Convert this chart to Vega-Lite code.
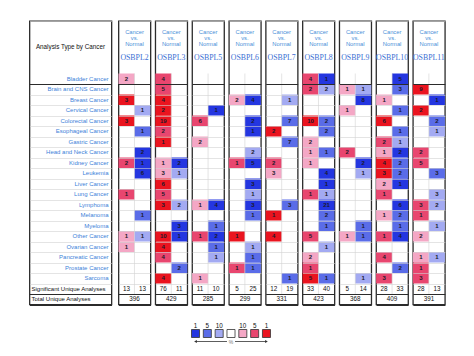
{
"$schema": "https://vega.github.io/schema/vega-lite/v6.json",
"padding": {"left": 28, "top": 20, "right": 0, "bottom": 0},
"background": "white",
"config": {
  "view": {"stroke": "#2b2b2b", "strokeWidth": 1.3},
  "font": "Liberation Sans",
  "axisY": {"labels": false, "ticks": false, "domain": false, "grid": true, "tickBand": "extent"},
  "axisX": {"labels": false, "ticks": false, "domain": false, "grid": false}
},
"datasets": {
  "labels": [
    {"label": "Analysis Type by Cancer", "kind": "header"},
    {"label": "Bladder Cancer", "kind": "cancer"},
    {"label": "Brain and CNS Cancer", "kind": "cancer"},
    {"label": "Breast Cancer", "kind": "cancer"},
    {"label": "Cervical Cancer", "kind": "cancer"},
    {"label": "Colorectal Cancer", "kind": "cancer"},
    {"label": "Esophageal Cancer", "kind": "cancer"},
    {"label": "Gastric Cancer", "kind": "cancer"},
    {"label": "Head and Neck Cancer", "kind": "cancer"},
    {"label": "Kidney Cancer", "kind": "cancer"},
    {"label": "Leukemia", "kind": "cancer"},
    {"label": "Liver Cancer", "kind": "cancer"},
    {"label": "Lung Cancer", "kind": "cancer"},
    {"label": "Lymphoma", "kind": "cancer"},
    {"label": "Melanoma", "kind": "cancer"},
    {"label": "Myeloma", "kind": "cancer"},
    {"label": "Other Cancer", "kind": "cancer"},
    {"label": "Ovarian Cancer", "kind": "cancer"},
    {"label": "Pancreatic Cancer", "kind": "cancer"},
    {"label": "Prostate Cancer", "kind": "cancer"},
    {"label": "Sarcoma", "kind": "cancer"},
    {"label": "Significant Unique Analyses", "kind": "total"},
    {"label": "Total Unique Analyses", "kind": "total"}
  ],
  "legend": [
    {"key": "down1", "label": "1"},
    {"key": "down5", "label": "5"},
    {"key": "down10", "label": "10"},
    {"key": "none", "label": ""},
    {"key": "up10", "label": "10"},
    {"key": "up5", "label": "5"},
    {"key": "up1", "label": "1"}
  ],
  "cells": [
    {"gene": "OSBPL2", "type": "Bladder Cancer", "dir": "up", "n": 2, "pct": 10},
    {"gene": "OSBPL2", "type": "Breast Cancer", "dir": "up", "n": 3, "pct": 1},
    {"gene": "OSBPL2", "type": "Cervical Cancer", "dir": "down", "n": 1, "pct": 10},
    {"gene": "OSBPL2", "type": "Colorectal Cancer", "dir": "up", "n": 3, "pct": 1},
    {"gene": "OSBPL2", "type": "Esophageal Cancer", "dir": "down", "n": 1, "pct": 5},
    {"gene": "OSBPL2", "type": "Head and Neck Cancer", "dir": "down", "n": 2, "pct": 1},
    {"gene": "OSBPL2", "type": "Kidney Cancer", "dir": "up", "n": 2, "pct": 5},
    {"gene": "OSBPL2", "type": "Kidney Cancer", "dir": "down", "n": 1, "pct": 1},
    {"gene": "OSBPL2", "type": "Leukemia", "dir": "down", "n": 6, "pct": 1},
    {"gene": "OSBPL2", "type": "Lung Cancer", "dir": "up", "n": 1, "pct": 5},
    {"gene": "OSBPL2", "type": "Melanoma", "dir": "down", "n": 1, "pct": 5},
    {"gene": "OSBPL2", "type": "Other Cancer", "dir": "up", "n": 1, "pct": 10},
    {"gene": "OSBPL2", "type": "Other Cancer", "dir": "down", "n": 1, "pct": 10},
    {"gene": "OSBPL2", "type": "Ovarian Cancer", "dir": "up", "n": 1, "pct": 10},
    {"gene": "OSBPL2", "type": "Significant Unique Analyses", "dir": "up", "n": 13},
    {"gene": "OSBPL2", "type": "Significant Unique Analyses", "dir": "down", "n": 13},
    {"gene": "OSBPL2", "type": "Total Unique Analyses", "dir": "all", "n": 396},

    {"gene": "OSBPL3", "type": "Bladder Cancer", "dir": "up", "n": 4, "pct": 5},
    {"gene": "OSBPL3", "type": "Brain and CNS Cancer", "dir": "up", "n": 5, "pct": 5},
    {"gene": "OSBPL3", "type": "Breast Cancer", "dir": "up", "n": 4, "pct": 1},
    {"gene": "OSBPL3", "type": "Cervical Cancer", "dir": "up", "n": 2, "pct": 1},
    {"gene": "OSBPL3", "type": "Colorectal Cancer", "dir": "up", "n": 19, "pct": 1},
    {"gene": "OSBPL3", "type": "Esophageal Cancer", "dir": "up", "n": 2, "pct": 5},
    {"gene": "OSBPL3", "type": "Gastric Cancer", "dir": "up", "n": 1, "pct": 1},
    {"gene": "OSBPL3", "type": "Kidney Cancer", "dir": "up", "n": 1, "pct": 10},
    {"gene": "OSBPL3", "type": "Kidney Cancer", "dir": "down", "n": 2, "pct": 1},
    {"gene": "OSBPL3", "type": "Leukemia", "dir": "up", "n": 3, "pct": 10},
    {"gene": "OSBPL3", "type": "Leukemia", "dir": "down", "n": 1, "pct": 10},
    {"gene": "OSBPL3", "type": "Liver Cancer", "dir": "up", "n": 6, "pct": 1},
    {"gene": "OSBPL3", "type": "Lung Cancer", "dir": "up", "n": 5, "pct": 5},
    {"gene": "OSBPL3", "type": "Lymphoma", "dir": "up", "n": 3, "pct": 1},
    {"gene": "OSBPL3", "type": "Lymphoma", "dir": "down", "n": 2, "pct": 10},
    {"gene": "OSBPL3", "type": "Myeloma", "dir": "down", "n": 3, "pct": 1},
    {"gene": "OSBPL3", "type": "Other Cancer", "dir": "up", "n": 10, "pct": 1},
    {"gene": "OSBPL3", "type": "Other Cancer", "dir": "down", "n": 1, "pct": 1},
    {"gene": "OSBPL3", "type": "Ovarian Cancer", "dir": "up", "n": 4, "pct": 1},
    {"gene": "OSBPL3", "type": "Pancreatic Cancer", "dir": "up", "n": 4, "pct": 5},
    {"gene": "OSBPL3", "type": "Prostate Cancer", "dir": "down", "n": 2, "pct": 5},
    {"gene": "OSBPL3", "type": "Sarcoma", "dir": "up", "n": 4, "pct": 1},
    {"gene": "OSBPL3", "type": "Significant Unique Analyses", "dir": "up", "n": 76},
    {"gene": "OSBPL3", "type": "Significant Unique Analyses", "dir": "down", "n": 11},
    {"gene": "OSBPL3", "type": "Total Unique Analyses", "dir": "all", "n": 429},

    {"gene": "OSBPL5", "type": "Cervical Cancer", "dir": "down", "n": 1, "pct": 1},
    {"gene": "OSBPL5", "type": "Colorectal Cancer", "dir": "up", "n": 6, "pct": 5},
    {"gene": "OSBPL5", "type": "Gastric Cancer", "dir": "up", "n": 2, "pct": 10},
    {"gene": "OSBPL5", "type": "Lymphoma", "dir": "up", "n": 1, "pct": 10},
    {"gene": "OSBPL5", "type": "Lymphoma", "dir": "down", "n": 4, "pct": 1},
    {"gene": "OSBPL5", "type": "Myeloma", "dir": "down", "n": 1, "pct": 5},
    {"gene": "OSBPL5", "type": "Other Cancer", "dir": "up", "n": 1, "pct": 5},
    {"gene": "OSBPL5", "type": "Other Cancer", "dir": "down", "n": 2, "pct": 1},
    {"gene": "OSBPL5", "type": "Ovarian Cancer", "dir": "down", "n": 1, "pct": 5},
    {"gene": "OSBPL5", "type": "Pancreatic Cancer", "dir": "down", "n": 1, "pct": 10},
    {"gene": "OSBPL5", "type": "Sarcoma", "dir": "up", "n": 1, "pct": 10},
    {"gene": "OSBPL5", "type": "Significant Unique Analyses", "dir": "up", "n": 11},
    {"gene": "OSBPL5", "type": "Significant Unique Analyses", "dir": "down", "n": 10},
    {"gene": "OSBPL5", "type": "Total Unique Analyses", "dir": "all", "n": 285},

    {"gene": "OSBPL6", "type": "Breast Cancer", "dir": "up", "n": 2, "pct": 10},
    {"gene": "OSBPL6", "type": "Breast Cancer", "dir": "down", "n": 4, "pct": 1},
    {"gene": "OSBPL6", "type": "Colorectal Cancer", "dir": "down", "n": 2, "pct": 1},
    {"gene": "OSBPL6", "type": "Esophageal Cancer", "dir": "down", "n": 1, "pct": 1},
    {"gene": "OSBPL6", "type": "Head and Neck Cancer", "dir": "down", "n": 2, "pct": 10},
    {"gene": "OSBPL6", "type": "Kidney Cancer", "dir": "up", "n": 1, "pct": 5},
    {"gene": "OSBPL6", "type": "Kidney Cancer", "dir": "down", "n": 5, "pct": 1},
    {"gene": "OSBPL6", "type": "Liver Cancer", "dir": "down", "n": 3, "pct": 1},
    {"gene": "OSBPL6", "type": "Lung Cancer", "dir": "down", "n": 1, "pct": 10},
    {"gene": "OSBPL6", "type": "Lymphoma", "dir": "down", "n": 3, "pct": 1},
    {"gene": "OSBPL6", "type": "Melanoma", "dir": "down", "n": 1, "pct": 5},
    {"gene": "OSBPL6", "type": "Other Cancer", "dir": "up", "n": 1, "pct": 1},
    {"gene": "OSBPL6", "type": "Ovarian Cancer", "dir": "down", "n": 1, "pct": 10},
    {"gene": "OSBPL6", "type": "Pancreatic Cancer", "dir": "down", "n": 1, "pct": 5},
    {"gene": "OSBPL6", "type": "Prostate Cancer", "dir": "up", "n": 1, "pct": 5},
    {"gene": "OSBPL6", "type": "Prostate Cancer", "dir": "down", "n": 1, "pct": 5},
    {"gene": "OSBPL6", "type": "Significant Unique Analyses", "dir": "up", "n": 5},
    {"gene": "OSBPL6", "type": "Significant Unique Analyses", "dir": "down", "n": 25},
    {"gene": "OSBPL6", "type": "Total Unique Analyses", "dir": "all", "n": 299},

    {"gene": "OSBPL7", "type": "Breast Cancer", "dir": "down", "n": 1, "pct": 10},
    {"gene": "OSBPL7", "type": "Colorectal Cancer", "dir": "down", "n": 7, "pct": 5},
    {"gene": "OSBPL7", "type": "Esophageal Cancer", "dir": "up", "n": 2, "pct": 1},
    {"gene": "OSBPL7", "type": "Gastric Cancer", "dir": "down", "n": 7, "pct": 5},
    {"gene": "OSBPL7", "type": "Kidney Cancer", "dir": "up", "n": 2, "pct": 5},
    {"gene": "OSBPL7", "type": "Leukemia", "dir": "up", "n": 3, "pct": 10},
    {"gene": "OSBPL7", "type": "Lymphoma", "dir": "down", "n": 3, "pct": 5},
    {"gene": "OSBPL7", "type": "Melanoma", "dir": "up", "n": 1, "pct": 1},
    {"gene": "OSBPL7", "type": "Other Cancer", "dir": "up", "n": 4, "pct": 1},
    {"gene": "OSBPL7", "type": "Sarcoma", "dir": "down", "n": 1, "pct": 5},
    {"gene": "OSBPL7", "type": "Significant Unique Analyses", "dir": "up", "n": 12},
    {"gene": "OSBPL7", "type": "Significant Unique Analyses", "dir": "down", "n": 19},
    {"gene": "OSBPL7", "type": "Total Unique Analyses", "dir": "all", "n": 331},

    {"gene": "OSBPL8", "type": "Bladder Cancer", "dir": "up", "n": 4, "pct": 5},
    {"gene": "OSBPL8", "type": "Bladder Cancer", "dir": "down", "n": 1, "pct": 1},
    {"gene": "OSBPL8", "type": "Brain and CNS Cancer", "dir": "up", "n": 2, "pct": 5},
    {"gene": "OSBPL8", "type": "Brain and CNS Cancer", "dir": "down", "n": 2, "pct": 10},
    {"gene": "OSBPL8", "type": "Colorectal Cancer", "dir": "up", "n": 10, "pct": 1},
    {"gene": "OSBPL8", "type": "Colorectal Cancer", "dir": "down", "n": 2, "pct": 5},
    {"gene": "OSBPL8", "type": "Esophageal Cancer", "dir": "down", "n": 2, "pct": 5},
    {"gene": "OSBPL8", "type": "Gastric Cancer", "dir": "up", "n": 2, "pct": 10},
    {"gene": "OSBPL8", "type": "Head and Neck Cancer", "dir": "up", "n": 1, "pct": 10},
    {"gene": "OSBPL8", "type": "Head and Neck Cancer", "dir": "down", "n": 1, "pct": 5},
    {"gene": "OSBPL8", "type": "Kidney Cancer", "dir": "up", "n": 1, "pct": 10},
    {"gene": "OSBPL8", "type": "Leukemia", "dir": "down", "n": 4, "pct": 1},
    {"gene": "OSBPL8", "type": "Liver Cancer", "dir": "down", "n": 1, "pct": 1},
    {"gene": "OSBPL8", "type": "Lung Cancer", "dir": "up", "n": 1, "pct": 5},
    {"gene": "OSBPL8", "type": "Lung Cancer", "dir": "down", "n": 1, "pct": 10},
    {"gene": "OSBPL8", "type": "Lymphoma", "dir": "down", "n": 21, "pct": 1},
    {"gene": "OSBPL8", "type": "Melanoma", "dir": "down", "n": 2, "pct": 5},
    {"gene": "OSBPL8", "type": "Myeloma", "dir": "down", "n": 1, "pct": 5},
    {"gene": "OSBPL8", "type": "Other Cancer", "dir": "up", "n": 5, "pct": 5},
    {"gene": "OSBPL8", "type": "Ovarian Cancer", "dir": "down", "n": 1, "pct": 10},
    {"gene": "OSBPL8", "type": "Pancreatic Cancer", "dir": "up", "n": 2, "pct": 10},
    {"gene": "OSBPL8", "type": "Prostate Cancer", "dir": "up", "n": 1, "pct": 5},
    {"gene": "OSBPL8", "type": "Sarcoma", "dir": "up", "n": 5, "pct": 1},
    {"gene": "OSBPL8", "type": "Sarcoma", "dir": "down", "n": 1, "pct": 5},
    {"gene": "OSBPL8", "type": "Significant Unique Analyses", "dir": "up", "n": 33},
    {"gene": "OSBPL8", "type": "Significant Unique Analyses", "dir": "down", "n": 40},
    {"gene": "OSBPL8", "type": "Total Unique Analyses", "dir": "all", "n": 423},

    {"gene": "OSBPL9", "type": "Brain and CNS Cancer", "dir": "up", "n": 1, "pct": 10},
    {"gene": "OSBPL9", "type": "Brain and CNS Cancer", "dir": "down", "n": 1, "pct": 10},
    {"gene": "OSBPL9", "type": "Breast Cancer", "dir": "down", "n": 8, "pct": 1},
    {"gene": "OSBPL9", "type": "Cervical Cancer", "dir": "up", "n": 1, "pct": 10},
    {"gene": "OSBPL9", "type": "Head and Neck Cancer", "dir": "up", "n": 2, "pct": 5},
    {"gene": "OSBPL9", "type": "Kidney Cancer", "dir": "down", "n": 2, "pct": 1},
    {"gene": "OSBPL9", "type": "Leukemia", "dir": "down", "n": 1, "pct": 10},
    {"gene": "OSBPL9", "type": "Myeloma", "dir": "down", "n": 1, "pct": 5},
    {"gene": "OSBPL9", "type": "Other Cancer", "dir": "up", "n": 1, "pct": 10},
    {"gene": "OSBPL9", "type": "Other Cancer", "dir": "down", "n": 1, "pct": 5},
    {"gene": "OSBPL9", "type": "Sarcoma", "dir": "down", "n": 1, "pct": 10},
    {"gene": "OSBPL9", "type": "Significant Unique Analyses", "dir": "up", "n": 5},
    {"gene": "OSBPL9", "type": "Significant Unique Analyses", "dir": "down", "n": 14},
    {"gene": "OSBPL9", "type": "Total Unique Analyses", "dir": "all", "n": 368},

    {"gene": "OSBPL10", "type": "Bladder Cancer", "dir": "down", "n": 5, "pct": 1},
    {"gene": "OSBPL10", "type": "Brain and CNS Cancer", "dir": "down", "n": 3, "pct": 5},
    {"gene": "OSBPL10", "type": "Breast Cancer", "dir": "up", "n": 1, "pct": 10},
    {"gene": "OSBPL10", "type": "Cervical Cancer", "dir": "down", "n": 1, "pct": 5},
    {"gene": "OSBPL10", "type": "Colorectal Cancer", "dir": "up", "n": 6, "pct": 1},
    {"gene": "OSBPL10", "type": "Esophageal Cancer", "dir": "down", "n": 1, "pct": 5},
    {"gene": "OSBPL10", "type": "Gastric Cancer", "dir": "up", "n": 2, "pct": 5},
    {"gene": "OSBPL10", "type": "Gastric Cancer", "dir": "down", "n": 1, "pct": 10},
    {"gene": "OSBPL10", "type": "Head and Neck Cancer", "dir": "up", "n": 1, "pct": 10},
    {"gene": "OSBPL10", "type": "Head and Neck Cancer", "dir": "down", "n": 2, "pct": 1},
    {"gene": "OSBPL10", "type": "Kidney Cancer", "dir": "up", "n": 4, "pct": 1},
    {"gene": "OSBPL10", "type": "Kidney Cancer", "dir": "down", "n": 2, "pct": 5},
    {"gene": "OSBPL10", "type": "Leukemia", "dir": "up", "n": 3, "pct": 1},
    {"gene": "OSBPL10", "type": "Leukemia", "dir": "down", "n": 2, "pct": 5},
    {"gene": "OSBPL10", "type": "Liver Cancer", "dir": "up", "n": 2, "pct": 10},
    {"gene": "OSBPL10", "type": "Liver Cancer", "dir": "down", "n": 1, "pct": 1},
    {"gene": "OSBPL10", "type": "Lung Cancer", "dir": "up", "n": 1, "pct": 5},
    {"gene": "OSBPL10", "type": "Lymphoma", "dir": "down", "n": 6, "pct": 1},
    {"gene": "OSBPL10", "type": "Melanoma", "dir": "up", "n": 1, "pct": 10},
    {"gene": "OSBPL10", "type": "Melanoma", "dir": "down", "n": 2, "pct": 5},
    {"gene": "OSBPL10", "type": "Myeloma", "dir": "down", "n": 1, "pct": 5},
    {"gene": "OSBPL10", "type": "Other Cancer", "dir": "up", "n": 1, "pct": 5},
    {"gene": "OSBPL10", "type": "Other Cancer", "dir": "down", "n": 4, "pct": 1},
    {"gene": "OSBPL10", "type": "Pancreatic Cancer", "dir": "up", "n": 4, "pct": 5},
    {"gene": "OSBPL10", "type": "Prostate Cancer", "dir": "down", "n": 2, "pct": 5},
    {"gene": "OSBPL10", "type": "Sarcoma", "dir": "up", "n": 3, "pct": 5},
    {"gene": "OSBPL10", "type": "Significant Unique Analyses", "dir": "up", "n": 28},
    {"gene": "OSBPL10", "type": "Significant Unique Analyses", "dir": "down", "n": 33},
    {"gene": "OSBPL10", "type": "Total Unique Analyses", "dir": "all", "n": 409},

    {"gene": "OSBPL11", "type": "Brain and CNS Cancer", "dir": "up", "n": 9, "pct": 1},
    {"gene": "OSBPL11", "type": "Breast Cancer", "dir": "down", "n": 1, "pct": 1},
    {"gene": "OSBPL11", "type": "Cervical Cancer", "dir": "up", "n": 2, "pct": 1},
    {"gene": "OSBPL11", "type": "Colorectal Cancer", "dir": "down", "n": 2, "pct": 5},
    {"gene": "OSBPL11", "type": "Esophageal Cancer", "dir": "down", "n": 1, "pct": 10},
    {"gene": "OSBPL11", "type": "Head and Neck Cancer", "dir": "up", "n": 2, "pct": 5},
    {"gene": "OSBPL11", "type": "Kidney Cancer", "dir": "up", "n": 5, "pct": 5},
    {"gene": "OSBPL11", "type": "Leukemia", "dir": "down", "n": 3, "pct": 5},
    {"gene": "OSBPL11", "type": "Lung Cancer", "dir": "down", "n": 3, "pct": 10},
    {"gene": "OSBPL11", "type": "Lymphoma", "dir": "up", "n": 3, "pct": 5},
    {"gene": "OSBPL11", "type": "Lymphoma", "dir": "down", "n": 2, "pct": 10},
    {"gene": "OSBPL11", "type": "Melanoma", "dir": "up", "n": 1, "pct": 5},
    {"gene": "OSBPL11", "type": "Myeloma", "dir": "down", "n": 1, "pct": 10},
    {"gene": "OSBPL11", "type": "Other Cancer", "dir": "up", "n": 2, "pct": 10},
    {"gene": "OSBPL11", "type": "Pancreatic Cancer", "dir": "up", "n": 1, "pct": 10},
    {"gene": "OSBPL11", "type": "Pancreatic Cancer", "dir": "down", "n": 1, "pct": 10},
    {"gene": "OSBPL11", "type": "Prostate Cancer", "dir": "up", "n": 1, "pct": 5},
    {"gene": "OSBPL11", "type": "Sarcoma", "dir": "up", "n": 3, "pct": 5},
    {"gene": "OSBPL11", "type": "Significant Unique Analyses", "dir": "up", "n": 28},
    {"gene": "OSBPL11", "type": "Significant Unique Analyses", "dir": "down", "n": 13},
    {"gene": "OSBPL11", "type": "Total Unique Analyses", "dir": "all", "n": 391}
  ]
},
"spacing": 15.5,
"center": true,
"resolve": {"scale": {"x": "independent", "y": "independent"}},
"vconcat": [
  {
    "spacing": 5,
    "resolve": {"scale": {"x": "independent", "y": "independent"}},
    "hconcat": [
      {
        "width": 82,
        "height": 283.5,
        "data": {"name": "labels"},
        "layer": [
          {
            "transform": [{"filter": "datum.kind == 'cancer'"}],
            "mark": {"type": "text", "align": "right", "dx": -3, "fontSize": 6, "color": "#3d7fd9"},
            "encoding": {
              "y": {"field": "label", "type": "nominal", "title": null,
                "scale": {"domain": ["h1","h2","h3","h4","h5","Bladder Cancer","Brain and CNS Cancer","Breast Cancer","Cervical Cancer","Colorectal Cancer","Esophageal Cancer","Gastric Cancer","Head and Neck Cancer","Kidney Cancer","Leukemia","Liver Cancer","Lung Cancer","Lymphoma","Melanoma","Myeloma","Other Cancer","Ovarian Cancer","Pancreatic Cancer","Prostate Cancer","Sarcoma","Significant Unique Analyses","Total Unique Analyses"], "paddingInner": 0, "paddingOuter": 0},
                "axis": {"labels": false, "ticks": false, "domain": false, "grid": true, "tickBand": "extent",
                  "gridColor": {"condition": [{"test": "indexof(['h1','h2','h3','h4','h5'], datum.value) >= 0", "value": "transparent"}, {"test": "indexof(['Bladder Cancer','Significant Unique Analyses','Total Unique Analyses'], datum.value) >= 0", "value": "#2b2b2b"}], "value": "#d2d2d2"},
                  "gridWidth": {"condition": {"test": "indexof(['Bladder Cancer','Significant Unique Analyses','Total Unique Analyses'], datum.value) >= 0", "value": 1.2}, "value": 0.6}}},
              "x": {"datum": 1, "type": "quantitative", "scale": {"domain": [0, 1], "nice": false}, "axis": null},
              "text": {"field": "label"}
            }
          },
          {
            "transform": [{"filter": "datum.kind == 'total'"}],
            "mark": {"type": "text", "align": "left", "dx": 2, "fontSize": 6, "color": "#111111"},
            "encoding": {
              "y": {"field": "label", "type": "nominal", "title": null},
              "x": {"datum": 0, "type": "quantitative", "axis": null},
              "text": {"field": "label"}
            }
          },
          {
            "transform": [{"filter": "datum.kind == 'header'"}],
            "mark": {"type": "text", "fontSize": 6.3, "color": "#111111"},
            "encoding": {
              "y": {"datum": "h3", "type": "nominal", "title": null},
              "text": {"field": "label"}
            }
          }
        ]
      },
      {
        "data": {"name": "cells"},
        "facet": {"column": {"field": "gene", "type": "nominal", "sort": ["OSBPL2","OSBPL3","OSBPL5","OSBPL6","OSBPL7","OSBPL8","OSBPL9","OSBPL10","OSBPL11"], "header": null}},
        "spacing": {"column": 2.8},
        "spec": {
          "width": 32,
          "height": 283.5,
          "layer": [
            {
              "transform": [{"filter": "isValid(datum.pct)"}, {"calculate": "datum.dir + datum.pct", "as": "key"}],
              "mark": {"type": "rect"},
              "encoding": {
                "x": {"field": "dir", "type": "nominal", "scale": {"domain": ["up","down"], "paddingInner": 0, "paddingOuter": 0}, "axis": null},
                "y": {"field": "type", "type": "nominal", "title": null,
                  "scale": {"domain": ["h1","h2","h3","h4","h5","Bladder Cancer","Brain and CNS Cancer","Breast Cancer","Cervical Cancer","Colorectal Cancer","Esophageal Cancer","Gastric Cancer","Head and Neck Cancer","Kidney Cancer","Leukemia","Liver Cancer","Lung Cancer","Lymphoma","Melanoma","Myeloma","Other Cancer","Ovarian Cancer","Pancreatic Cancer","Prostate Cancer","Sarcoma","Significant Unique Analyses","Total Unique Analyses"], "paddingInner": 0, "paddingOuter": 0},
                  "axis": {"labels": false, "ticks": false, "domain": false, "grid": true, "tickBand": "extent",
                    "gridColor": {"condition": [{"test": "indexof(['h1','h2','h3','h4','h5'], datum.value) >= 0", "value": "transparent"}, {"test": "indexof(['Bladder Cancer','Significant Unique Analyses','Total Unique Analyses'], datum.value) >= 0", "value": "#2b2b2b"}], "value": "#d2d2d2"},
                    "gridWidth": {"condition": {"test": "indexof(['Bladder Cancer','Significant Unique Analyses','Total Unique Analyses'], datum.value) >= 0", "value": 1.2}, "value": 0.6}}},
                "fill": {"field": "key", "type": "nominal", "legend": null,
                  "scale": {"domain": ["down1","down5","down10","none","up10","up5","up1"], "range": ["#2436e0","#5a6ce8","#a3aaf2","#ffffff","#f4a7c5","#e8466f","#ea141f"]}}
              }
            },
            {
              "transform": [{"filter": "datum.type == 'Total Unique Analyses'"}],
              "mark": {"type": "rule", "color": "#d2d2d2", "strokeWidth": 0.6},
              "encoding": {
                "x": {"datum": "down", "type": "nominal", "bandPosition": 0, "axis": null},
                "y": {"datum": "Bladder Cancer", "type": "nominal", "bandPosition": 0, "title": null},
                "y2": {"datum": "Total Unique Analyses", "bandPosition": 0}
              }
            },
            {
              "transform": [{"filter": "isValid(datum.pct)"}],
              "mark": {"type": "text", "fontSize": 6, "fontWeight": "bold", "color": "#1a1a2a"},
              "encoding": {
                "x": {"field": "dir", "type": "nominal", "axis": null},
                "y": {"field": "type", "type": "nominal", "title": null},
                "text": {"field": "n"}
              }
            },
            {
              "transform": [{"filter": "datum.type == 'Significant Unique Analyses'"}],
              "mark": {"type": "text", "fontSize": 6.3, "color": "#111111"},
              "encoding": {
                "x": {"field": "dir", "type": "nominal", "axis": null},
                "y": {"field": "type", "type": "nominal", "title": null},
                "text": {"field": "n"}
              }
            },
            {
              "transform": [{"filter": "datum.type == 'Total Unique Analyses'"}],
              "mark": {"type": "text", "fontSize": 6.3, "color": "#111111"},
              "encoding": {
                "y": {"field": "type", "type": "nominal", "title": null},
                "text": {"field": "n"}
              }
            },
            {
              "transform": [{"filter": "datum.type == 'Total Unique Analyses'"}],
              "mark": {"type": "text", "text": ["Cancer", "vs.", "Normal"], "fontSize": 5.8, "lineHeight": 6, "baseline": "middle", "color": "#4a8fd8"},
              "encoding": {
                "y": {"datum": "h1", "type": "nominal", "bandPosition": 1, "title": null}
              }
            },
            {
              "transform": [{"filter": "datum.type == 'Total Unique Analyses'"}],
              "mark": {"type": "text", "font": "Liberation Serif", "fontSize": 7.8, "color": "#3b6fd3"},
              "encoding": {
                "y": {"datum": "h4", "type": "nominal", "title": null},
                "text": {"field": "gene"}
              }
            }
          ]
        }
      }
    ]
  },
  {
    "data": {"name": "legend"},
    "width": 92,
    "height": 24,
    "view": {"stroke": null},
    "layer": [
      {
        "mark": {"type": "rect", "stroke": "#333333", "strokeWidth": 0.8},
        "encoding": {
          "x": {"field": "key", "type": "nominal", "sort": null, "axis": null,
            "scale": {"domain": ["down1","down5","down10","none","up10","up5","up1"], "paddingInner": 0.32, "paddingOuter": 0.55, "align": 0}},
          "y": {"datum": "sq", "type": "nominal", "axis": null, "scale": {"domain": ["num","sq","arrow"], "paddingInner": 0, "paddingOuter": 0}},
          "fill": {"field": "key", "type": "nominal", "legend": null,
            "scale": {"domain": ["down1","down5","down10","none","up10","up5","up1"], "range": ["#2436e0","#5a6ce8","#a3aaf2","#ffffff","#f4a7c5","#e8466f","#ea141f"]}}
        }
      },
      {
        "mark": {"type": "text", "fontSize": 6.3, "color": "#111111"},
        "encoding": {
          "x": {"field": "key", "type": "nominal", "axis": null},
          "y": {"datum": "num", "type": "nominal", "axis": null},
          "text": {"field": "label"}
        }
      },
      {
        "transform": [{"filter": "datum.key == 'none'"}],
        "mark": {"type": "rule", "color": "#333333", "strokeWidth": 0.8},
        "encoding": {
          "x": {"datum": "down1", "type": "nominal", "axis": null},
          "x2": {"datum": "none", "bandPosition": 0},
          "y": {"datum": "arrow", "type": "nominal", "axis": null}
        }
      },
      {
        "transform": [{"filter": "datum.key == 'none'"}],
        "mark": {"type": "rule", "color": "#333333", "strokeWidth": 0.8},
        "encoding": {
          "x": {"datum": "none", "type": "nominal", "bandPosition": 1, "axis": null},
          "x2": {"datum": "up1"},
          "y": {"datum": "arrow", "type": "nominal", "axis": null}
        }
      },
      {
        "transform": [{"filter": "datum.key == 'none'"}],
        "mark": {"type": "point", "shape": "triangle-left", "filled": true, "size": 10, "color": "#333333", "opacity": 1},
        "encoding": {
          "x": {"datum": "down1", "type": "nominal", "axis": null},
          "y": {"datum": "arrow", "type": "nominal", "axis": null}
        }
      },
      {
        "transform": [{"filter": "datum.key == 'none'"}],
        "mark": {"type": "point", "shape": "triangle-right", "filled": true, "size": 10, "color": "#333333", "opacity": 1},
        "encoding": {
          "x": {"datum": "up1", "type": "nominal", "axis": null},
          "y": {"datum": "arrow", "type": "nominal", "axis": null}
        }
      },
      {
        "transform": [{"filter": "datum.key == 'none'"}],
        "mark": {"type": "text", "text": "%", "fontSize": 5, "color": "#777777"},
        "encoding": {
          "x": {"datum": "none", "type": "nominal", "axis": null},
          "y": {"datum": "arrow", "type": "nominal", "axis": null}
        }
      }
    ]
  }
]
}
